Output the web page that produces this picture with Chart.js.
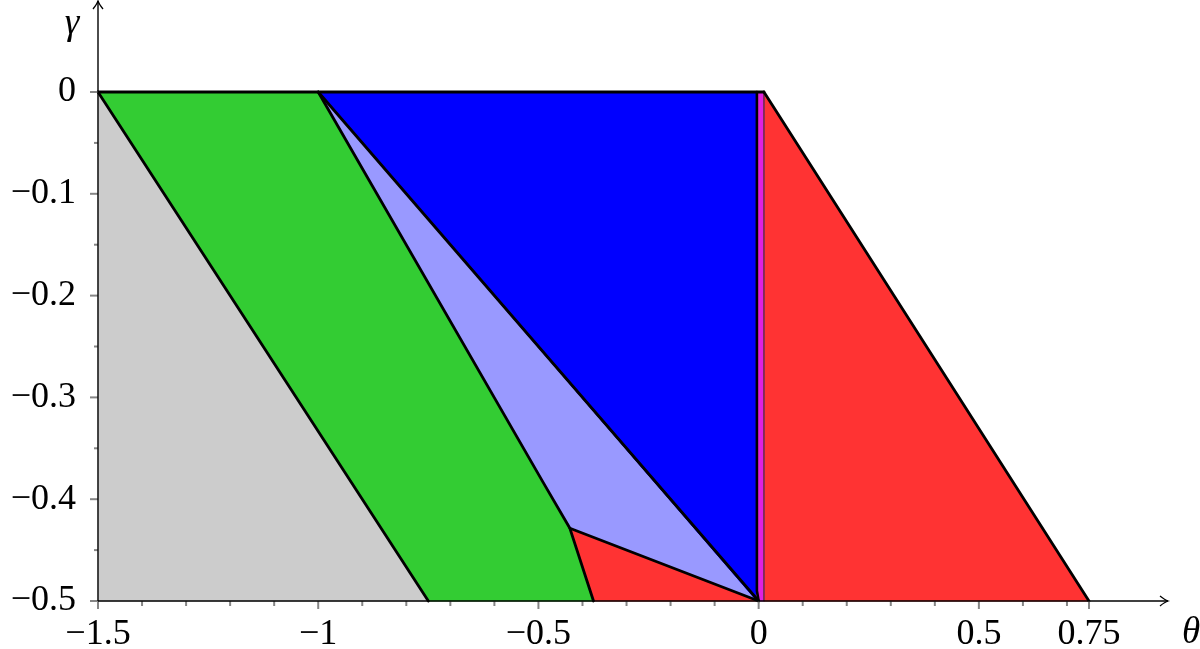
<!DOCTYPE html>
<html>
<head>
<meta charset="utf-8">
<script src="https://cdn.jsdelivr.net/npm/chart.js@4.4.1/dist/chart.umd.min.js"></script>
<style>
  html, body { margin: 0; padding: 0; background: #ffffff; }
  #wrap { width: 1200px; height: 649px; position: relative; }
</style>
</head>
<body>
<div id="wrap"><canvas id="c"></canvas></div>
<script>
// ---- Region polygons (theta, gamma) ----
const grayX      = [-1.5, -0.75, -1.5, -1.5];
const grayY      = [0, -0.5, -0.5, 0];
const greenX     = [-1.5, -1, -0.49, -0.4286, -0.375, -0.75, -1.5];
const greenY     = [0, 0, -0.383, -0.4286, -0.5, -0.5, 0];
const lightBlueX = [-1, 0, -0.4286, -0.49, -1];
const lightBlueY = [0, -0.5, -0.4286, -0.383, 0];
const blueX      = [-1, -0.004, -0.004, -1];
const blueY      = [0, 0, -0.5, 0];
const redSmallX  = [-0.4286, 0, -0.375, -0.4286];
const redSmallY  = [-0.4286, -0.5, -0.5, -0.4286];
const magentaX   = [-0.004, 0.012, 0.012, -0.004, -0.004];
const magentaY   = [0, 0, -0.5, -0.5, 0];
const redBigX    = [0.012, 0.75, 0.012, 0.012];
const redBigY    = [0, -0.5, -0.5, 0];

// ---- Boundary lines (theta, gamma) ----
const topEdgeX    = [-1.5, 0.012];
const topEdgeY    = [0, 0];
const grayDiagX   = [-1.5, -0.75];
const grayDiagY   = [0, -0.5];
const greenEdgeX  = [-1, -0.49, -0.4286, -0.375];
const greenEdgeY  = [0, -0.383, -0.4286, -0.5];
const blueDiagX   = [-1, 0];
const blueDiagY   = [0, -0.5];
const redTopX     = [-0.4286, 0];
const redTopY     = [-0.4286, -0.5];
const zeroEdgeX   = [-0.004, -0.004, 0];
const zeroEdgeY   = [0, -0.49, -0.5];
const redDiagX    = [0.012, 0.75];
const redDiagY    = [0, -0.5];
const magEdgeX    = [0.012, 0.012];
const magEdgeY    = [0, -0.5];

// ---- Ticks ----
const xTickValues = [-1.5, -1, -0.5, 0, 0.5, 0.75];
const xTickLabels = ['\u22121.5', '\u22121', '\u22120.5', '0', '0.5', '0.75'];
const yTickValues = [0, -0.1, -0.2, -0.3, -0.4, -0.5];
const yTickLabels = ['0', '\u22120.1', '\u22120.2', '\u22120.3', '\u22120.4', '\u22120.5'];
const xMinorTicks = [-1.5,-1.4,-1.3,-1.2,-1.1,-1,-0.9,-0.8,-0.7,-0.6,-0.5,-0.4,-0.3,-0.2,-0.1,0,0.1,0.2,0.3,0.4,0.5,0.6,0.7,0.75];
const yMinorTicks = [0,-0.05,-0.1,-0.15,-0.2,-0.25,-0.3,-0.35,-0.4,-0.45,-0.5];
const xRange = [-1.5, 0.9294];
const yRange = [-0.5, 0.0894];

const FONT = '"Liberation Serif", "Times New Roman", Times, serif';

function pts(xs, ys) { return xs.map((v, i) => ({ x: v, y: ys[i] })); }

function region(xs, ys, color) {
  return {
    data: pts(xs, ys), showLine: true, fill: 'shape',
    backgroundColor: color, borderColor: color, borderWidth: 1,
    pointRadius: 0, tension: 0, clip: false
  };
}
function edge(xs, ys, w, color) {
  return {
    data: pts(xs, ys), showLine: true, fill: false,
    borderColor: color || '#000', borderWidth: w, borderCapStyle: 'round', borderJoinStyle: 'round',
    pointRadius: 0, tension: 0, clip: false
  };
}

const datasets = [
  region(grayX, grayY, '#cccccc'),
  region(greenX, greenY, '#33cc33'),
  region(lightBlueX, lightBlueY, '#9999ff'),
  region(blueX, blueY, '#0000ff'),
  region(redSmallX, redSmallY, '#ff3333'),
  region(magentaX, magentaY, '#e020e0'),
  region(redBigX, redBigY, '#ff3333'),
  edge(magEdgeX, magEdgeY, 1, '#7a2a5a'),
  edge(topEdgeX, topEdgeY, 2.8),
  edge(grayDiagX, grayDiagY, 2.8),
  edge(greenEdgeX, greenEdgeY, 2.8),
  edge(blueDiagX, blueDiagY, 2.8),
  edge(redTopX, redTopY, 2.8),
  edge(zeroEdgeX, zeroEdgeY, 2.6),
  edge(redDiagX, redDiagY, 2.8)
];
// later datasets are painted on top
datasets.forEach((d, i) => { d.order = datasets.length - i; });

const near = (a, list) => list.some(v => Math.abs(v - a) < 1e-9);

const axisDecor = {
  id: 'axisDecor',
  afterDraw(chart) {
    const { ctx, chartArea: a, scales: { x, y } } = chart;
    ctx.save();
    ctx.strokeStyle = '#858585';
    ctx.lineWidth = 2;
    const y0 = y.getPixelForValue(-0.5);
    const x0 = x.getPixelForValue(-1.5);
    xMinorTicks.forEach(v => {
      const px = x.getPixelForValue(v);
      const len = near(v, xTickValues) ? 8 : 5;
      ctx.beginPath(); ctx.moveTo(px, y0); ctx.lineTo(px, y0 + len); ctx.stroke();
    });
    yMinorTicks.forEach(v => {
      const py = y.getPixelForValue(v);
      const len = near(v, yTickValues) ? 8 : 4;
      ctx.beginPath(); ctx.moveTo(x0, py); ctx.lineTo(x0 - len, py); ctx.stroke();
    });
    ctx.strokeStyle = '#000';
    ctx.lineWidth = 1.4;
    ctx.beginPath(); ctx.moveTo(x0, y0); ctx.lineTo(a.right, y0); ctx.stroke();
    ctx.beginPath(); ctx.moveTo(x0, y0); ctx.lineTo(x0, a.top); ctx.stroke();
    ctx.lineWidth = 1.3;
    ctx.beginPath();
    ctx.moveTo(a.right - 8, y0 - 5);
    ctx.quadraticCurveTo(a.right - 3, y0 - 1, a.right, y0);
    ctx.quadraticCurveTo(a.right - 3, y0 + 1, a.right - 8, y0 + 5);
    ctx.stroke();
    ctx.beginPath();
    ctx.moveTo(x0 - 5, a.top + 8);
    ctx.quadraticCurveTo(x0 - 1, a.top + 3, x0, a.top);
    ctx.quadraticCurveTo(x0 + 1, a.top + 3, x0 + 5, a.top + 8);
    ctx.stroke();
    ctx.fillStyle = '#000';
    ctx.font = 'italic 37px ' + FONT;
    ctx.textAlign = 'center';
    ctx.textBaseline = 'alphabetic';
    ctx.fillText('\u03b3', 72, 34);
    ctx.fillText('\u03b8', 1191, 643);
    ctx.restore();
  }
};

new Chart(document.getElementById('c'), {
  type: 'scatter',
  data: { datasets },
  options: {
    responsive: true,
    maintainAspectRatio: false,
    animation: false,
    events: [],
    layout: { padding: { left: 0, right: 32, top: 1, bottom: 0 } },
    plugins: { legend: { display: false }, tooltip: { enabled: false } },
    scales: {
      x: {
        type: 'linear', position: 'bottom',
        min: xRange[0], max: xRange[1],
        grid: { display: false, drawTicks: false },
        border: { display: false },
        afterBuildTicks: s => { s.ticks = xTickValues.map(v => ({ value: v })); },
        afterFit: s => { s.height = 48; s.paddingLeft = 0; s.paddingRight = 0; },
        ticks: {
          autoSkip: false, maxRotation: 0, padding: 12, color: '#000',
          font: { family: FONT, size: 36 },
          callback: (v, i) => xTickLabels[i]
        }
      },
      y: {
        type: 'linear', position: 'left',
        min: yRange[0], max: yRange[1],
        grid: { display: false, drawTicks: false },
        border: { display: false },
        afterBuildTicks: s => { s.ticks = yTickValues.map(v => ({ value: v })); },
        afterFit: s => { s.width = 98; s.paddingTop = 0; s.paddingBottom = 0; },
        ticks: {
          autoSkip: false, padding: 22, color: '#000',
          font: { family: FONT, size: 36 },
          callback: (v, i) => yTickLabels[i]
        }
      }
    }
  },
  plugins: [axisDecor]
});
</script>
</body>
</html>
